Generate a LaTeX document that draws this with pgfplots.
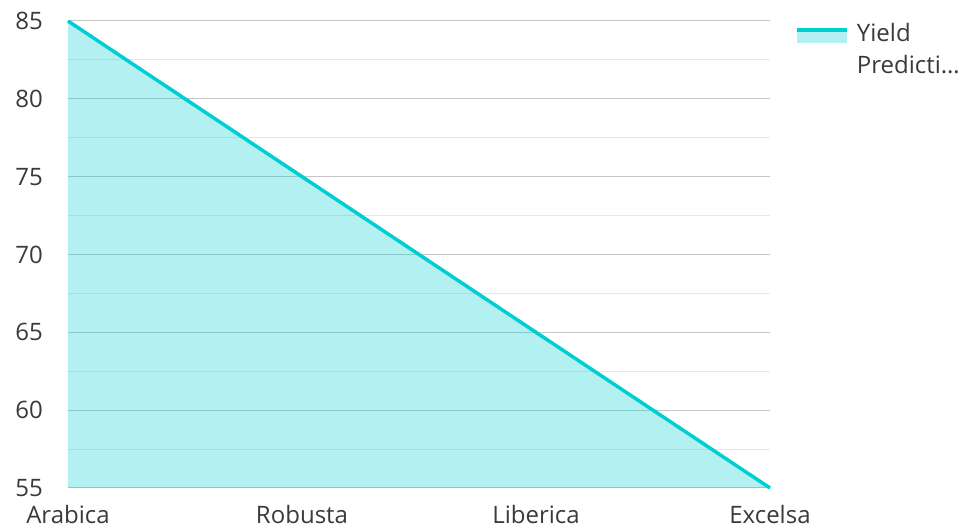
\documentclass[border=0pt]{standalone}
\usepackage{fontspec}
\setmainfont{Open Sans}
\usepackage{pgfplots}
\pgfplotsset{compat=1.18}
\definecolor{turq}{HTML}{00CED1}
\definecolor{txt}{HTML}{3A3A3A}
\begin{document}
\begin{tikzpicture}
\path[use as bounding box] (-68pt,-41pt) rectangle (894pt,488pt);
\begin{axis}[
  at={(0,0)}, anchor=south west,
  scale only axis, width=702pt, height=467pt,
  clip=false,
  xmin=0, xmax=3, ymin=55, ymax=85,
  xtick={0,1,2,3},
  xticklabels={Arabica,Robusta,Liberica,Excelsa},
  ytick={55,60,...,85},
  minor ytick={57.5,62.5,...,82.5},
  ymajorgrids, yminorgrids,
  major grid style={draw=black!22, line width=1pt},
  minor grid style={draw=black!9, line width=1pt},
  axis line style={draw=none},
  major tick style={draw=none}, minor tick style={draw=none},
  /pgf/number format/assume math mode=true,
  tick label style={font=\fontsize{24}{28}\selectfont, text=txt},
  yticklabel style={anchor=east, inner sep=0pt, xshift=-25pt},
  xticklabel style={anchor=north, inner sep=0pt, yshift=-17pt},
  legend style={draw=none, fill=none, at={(1,1)}, anchor=north west,
    xshift=25pt, yshift=-2pt, inner sep=0pt,
    font=\fontsize{24}{32}\selectfont, text=txt,
    nodes={inner sep=0pt}},
  legend cell align=left,
  legend image code/.code={
    \fill[turq, fill opacity=0.3] (0pt,6pt) rectangle (50pt,17pt);
    \draw[turq, line width=3.5pt] (0pt,19pt) -- (50pt,19pt);
    \path (60pt,0pt);
  },
]
\addplot[draw=none, fill=turq, fill opacity=0.3]
  coordinates {(0,85) (1,75) (2,65) (3,55)} \closedcycle;
\addlegendentry[align=left]{Yield\\Predicti…}
\addplot[turq, line width=3.5pt, forget plot]
  coordinates {(0,85) (1,75) (2,65) (3,55)};
\end{axis}
\end{tikzpicture}
\end{document}
